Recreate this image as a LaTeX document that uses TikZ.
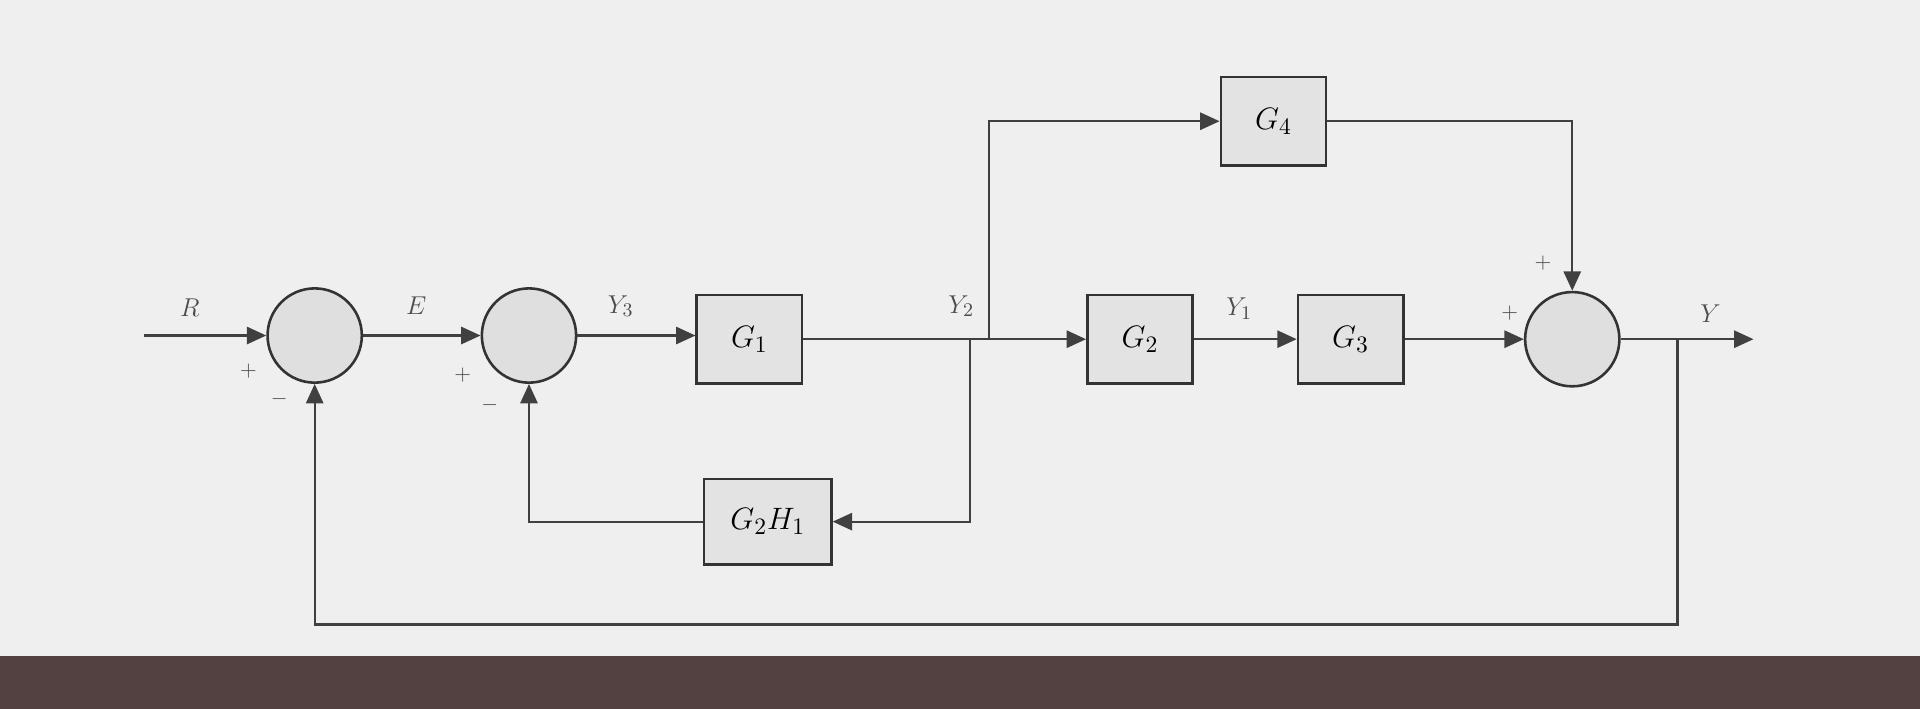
\documentclass[tikz,border=0pt]{standalone}
\usetikzlibrary{arrows.meta}
\begin{document}
\begin{tikzpicture}[x=0.02cm,y=-0.02cm,
  blk/.style={draw=black!80,line width=1.2pt,fill=gray!22,minimum width=1.72cm,minimum height=1.44cm,inner sep=0pt,font=\fontsize{15}{18}\selectfont},
  sumc/.style={circle,draw=black!80,line width=1.2pt,fill=gray!25,minimum size=1.54cm,inner sep=0pt},
  ln/.style={line width=1pt,draw=black!75},
  ar/.style={ln,-{Triangle[length=9pt,width=8pt]}},
  lab/.style={font=\fontsize{13}{15}\selectfont,text=black!70},
  sg/.style={font=\fontsize{10}{12}\selectfont,text=black!70}]
\fill[blue!4!gray!12] (0,0) rectangle (1568,536);
\fill[red!10!black!75] (0,536) rectangle (1568,579);
\node[sumc] (s1) at (257,274) {};
\node[sumc] (s2) at (432,274) {};
\node[sumc] (s3) at (1284,277) {};
\node[blk] (g1) at (612,277) {$G_1$};
\node[blk] (g2) at (931,277) {$G_2$};
\node[blk] (g3) at (1103,277) {$G_3$};
\node[blk] (g4) at (1040,99) {$G_4$};
\node[blk,minimum width=2.08cm,minimum height=1.4cm] (gh) at (627,426) {$G_2H_1$};
\coordinate (r) at (118,274);
\coordinate (b2) at (808,277);
\coordinate (b1) at (792,277);
\coordinate (bo) at (1370,277);
\coordinate (yo) at (1432,277);
\draw[ar] (r) -- (s1);
\draw[ar] (s1) -- (s2);
\draw[ar] (s2.east) -- (g1.west |- s2.east);
\draw[ln] (g1) -- (b2);
\draw[ar] (b2) -- (g2);
\draw[ar] (g2) -- (g3);
\draw[ar] (g3) -- (s3);
\draw[ar] (b2) |- (g4);
\draw[ar] (g4.east) -| (s3.north);
\draw[ar] (b1) |- (gh.east);
\draw[ar] (gh.west) -| (s2.south);
\draw[ar] (s3) -- (yo);
\draw[ar] (bo) -- (1370,510) -| (s1.south);
\node[lab] at (155,251) {$R$};
\node[lab] at (340,250) {$E$};
\node[lab] at (507,250) {$Y_3$};
\node[lab] at (785,250) {$Y_2$};
\node[lab] at (1012,252) {$Y_1$};
\node[lab] at (1397,256) {$Y$};
\node[sg] at (203,303) {$+$};
\node[sg] at (228,326) {$-$};
\node[sg] at (378,306) {$+$};
\node[sg] at (400,331) {$-$};
\node[sg] at (1233,256) {$+$};
\node[sg] at (1260,215) {$+$};
\end{tikzpicture}
\end{document}
